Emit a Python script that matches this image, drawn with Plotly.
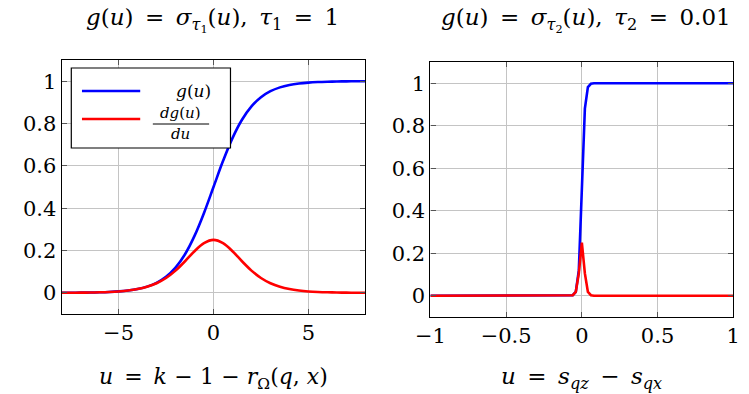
import plotly.graph_objects as go

# ---- data ----
u_left = [-8, -7.5, -7, -6.5, -6, -5.5, -5, -4.5, -4, -3.5, -3, -2.5, -2, -1.5, -1, -0.5,
          0, 0.5, 1, 1.5, 2, 2.5, 3, 3.5, 4, 4.5, 5, 5.5, 6, 6.5, 7, 7.5, 8]
g_left = [0.0003, 0.0006, 0.0009, 0.0015, 0.0025, 0.0041, 0.0067, 0.011, 0.018, 0.0293, 0.0474,
          0.0759, 0.1192, 0.1824, 0.2689, 0.3775, 0.5, 0.6225, 0.7311, 0.8176, 0.8808, 0.9241,
          0.9526, 0.9707, 0.982, 0.989, 0.9933, 0.9959, 0.9975, 0.9985, 0.9991, 0.9994, 0.9997]
dg_left = [0.0003, 0.0006, 0.0009, 0.0015, 0.0025, 0.0041, 0.0066, 0.0109, 0.0177, 0.0285, 0.0452,
           0.0701, 0.105, 0.1491, 0.1966, 0.235, 0.25, 0.235, 0.1966, 0.1491, 0.105, 0.0701,
           0.0452, 0.0285, 0.0177, 0.0109, 0.0066, 0.0041, 0.0025, 0.0015, 0.0009, 0.0006, 0.0003]

u_right = [-1, -0.1, -0.08, -0.06, -0.04, -0.02, 0, 0.02, 0.04, 0.06, 0.08, 0.1, 1]
g_right = [0, 0.0000, 0.0003, 0.0025, 0.018, 0.1192, 0.5, 0.8808, 0.982, 0.9975, 0.9997, 1.0, 1]
dg_right = [0, 0.0000, 0.0003, 0.0025, 0.0177, 0.105, 0.25, 0.105, 0.0177, 0.0025, 0.0003, 0.0, 0]

x_left_ticks = [-5, 0, 5]
x_left_labels = ["\u22125", "0", "5"]
x_right_ticks = [-1, -0.5, 0, 0.5, 1]
x_right_labels = ["\u22121", "\u22120.5", "0", "0.5", "1"]
y_ticks = [0, 0.2, 0.4, 0.6, 0.8, 1]
y_labels = ["0", "0.2", "0.4", "0.6", "0.8", "1"]

BLUE = "#0000ff"
RED = "#ff0000"
FONT = "'DejaVu Serif', serif"
W, H = 749, 394


def px(x):
    return x / W


def py(y):
    return 1 - y / H


fig = go.Figure()
fig.add_trace(go.Scatter(x=u_left, y=g_left, mode="lines", line=dict(color=BLUE, width=2.6, shape="spline"),
                         xaxis="x", yaxis="y", showlegend=False))
fig.add_trace(go.Scatter(x=u_left, y=dg_left, mode="lines", line=dict(color=RED, width=2.6, shape="spline"),
                         xaxis="x", yaxis="y", showlegend=False))
fig.add_trace(go.Scatter(x=u_right, y=g_right, mode="lines", line=dict(color=BLUE, width=2.6),
                         xaxis="x2", yaxis="y2", showlegend=False))
fig.add_trace(go.Scatter(x=u_right, y=dg_right, mode="lines", line=dict(color=RED, width=2.6),
                         xaxis="x2", yaxis="y2", showlegend=False))

axis_common = dict(showline=True, linecolor="black", linewidth=1.2, mirror="allticks",
                   showgrid=True, gridcolor="#c4c4c4", gridwidth=1, zeroline=False,
                   ticks="inside", ticklen=5, tickcolor="#555555", tickwidth=1,
                   tickfont=dict(family=FONT, size=21, color="black"))

fig.update_layout(
    width=W, height=H, margin=dict(l=0, r=0, t=0, b=0),
    paper_bgcolor="white", plot_bgcolor="white",
    xaxis=dict(domain=[px(48), px(361)], range=[-8, 8], tickmode="array",
               tickvals=x_left_ticks, ticktext=x_left_labels, anchor="y", **axis_common),
    yaxis=dict(domain=[py(314), py(60)], range=[-0.1, 1.1], tickmode="array",
               tickvals=y_ticks, ticktext=y_labels, anchor="x", **axis_common),
    xaxis2=dict(domain=[px(428), px(740)], range=[-1, 1], tickmode="array",
                tickvals=x_right_ticks, ticktext=x_right_labels, anchor="y2", **axis_common),
    yaxis2=dict(domain=[py(317), py(62)], range=[-0.1, 1.1], tickmode="array",
                tickvals=y_ticks, ticktext=y_labels, anchor="x2", **axis_common),
)


def label(x, y, text, size=22, xanchor="center"):
    return dict(x=px(x), y=py(y), xref="paper", yref="paper", showarrow=False,
                xanchor=xanchor, yanchor="middle",
                font=dict(family=FONT, size=size, color="black"), text=text)


EQ = "\u2002=\u2002"
MI = "\u2002\u2212\u2002"
MI_S = "\u2004\u2212\u2004"
ann = [
    label(203, 20, "<i>g</i>(<i>u</i>)" + EQ + "<i>σ</i><sub><i>τ</i><sub>1</sub></sub>(<i>u</i>),"
          + "\u2002<i>τ</i><sub>1</sub>" + EQ + "1", size=23),
    label(588, 20, "<i>g</i>(<i>u</i>)" + EQ + "<i>σ</i><sub><i>τ</i><sub>2</sub></sub>(<i>u</i>),"
          + "\u2002<i>τ</i><sub>2</sub>" + EQ + "0.01", size=23),
    label(204, 378, "<i>u</i>" + EQ + "<i>k</i>" + MI_S + "1" + MI_S + "<i>r</i><sub>Ω</sub>(<i>q</i>, <i>x</i>)",
          size=22),
    label(584, 378, "<i>u</i>" + EQ + "<i>s</i><sub><i>qz</i></sub>" + MI + "<i>s</i><sub><i>qx</i></sub>",
          size=23),
    # custom legend texts
    label(204, 91, "<i>g</i>(<i>u</i>)", size=17, xanchor="right"),
    label(171, 113, "<i>dg</i>(<i>u</i>)", size=15),
    label(171, 134, "<i>du</i>", size=15),
]

shapes = [
    dict(type="rect", xref="paper", yref="paper", x0=px(58), x1=px(222), y0=py(148), y1=py(68),
         line=dict(color="black", width=1.2), fillcolor="white", layer="above"),
    dict(type="line", xref="paper", yref="paper", x0=px(69), x1=px(129), y0=py(91), y1=py(91),
         line=dict(color=BLUE, width=2.6), layer="above"),
    dict(type="line", xref="paper", yref="paper", x0=px(69), x1=px(129), y0=py(119), y1=py(119),
         line=dict(color=RED, width=2.6), layer="above"),
    dict(type="line", xref="paper", yref="paper", x0=px(142), x1=px(200), y0=py(124), y1=py(124),
         line=dict(color="black", width=1), layer="above"),
]
fig.update_layout(annotations=ann, shapes=shapes)

fig.write_html("out.html", config={"displayModeBar": False},
               post_script="document.body.style.margin='0px';")
